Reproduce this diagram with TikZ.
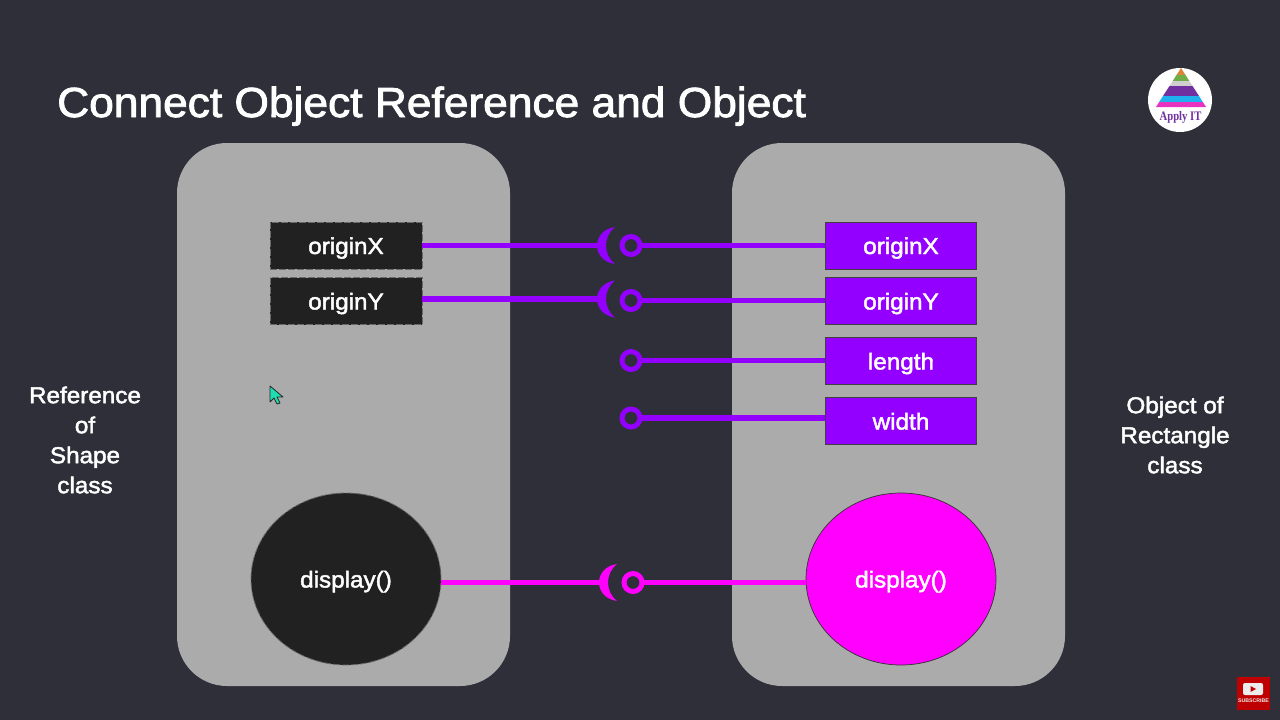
\documentclass[tikz,border=0pt]{standalone}
\usepackage{fontspec}
\setmainfont{Liberation Sans}[FakeBold=2,FakeStretch=1.055]
\newfontfamily\logofont{Liberation Serif}[FakeStretch=0.82]
\newfontfamily\tinyfont{Liberation Sans}
\usetikzlibrary{shapes.geometric}
\definecolor{bgc}{HTML}{2E2F39}
\definecolor{panelc}{HTML}{ABABAB}
\definecolor{darkc}{HTML}{212121}
\definecolor{purp}{HTML}{9400FF}
\definecolor{magc}{HTML}{FF00FF}
\definecolor{edgec}{HTML}{6A6A6A}
\definecolor{cursorc}{HTML}{1FDDB0}
\tikzset{
  x=1pt,y=-1pt,
  panel/.style={fill=panelc,rounded corners=50pt},
  label/.style={text=white,font=\fontsize{23}{30}\selectfont,align=center,inner sep=0pt},
  boxtext/.style={label,text height=17pt,text depth=0pt},
  refbox/.style={boxtext,minimum width=152pt,minimum height=47pt,fill=darkc,draw=edgec,dash pattern=on 7pt off 2pt,line width=.8pt},
  objbox/.style={boxtext,minimum width=151pt,minimum height=47pt,fill=purp,draw=black!75,line width=.7pt},
  refoval/.style={boxtext,ellipse,minimum width=190pt,minimum height=172pt,fill=darkc,draw=edgec,dash pattern=on 7pt off 2pt,line width=.8pt},
  objoval/.style={boxtext,ellipse,minimum width=190pt,minimum height=172pt,fill=magc,draw=black!80,line width=.7pt},
  sock/.style={circle,draw=#1,line width=5pt,minimum size=18pt,inner sep=0pt},
  wire/.style={draw=#1,line width=5.5pt},
  moon/.pic={\fill[pic actions] (13,-18.5) .. controls (-11,-15) and (-11,15) .. (13,18.5) .. controls (1,9) and (1,-9) .. (13,-18.5) -- cycle;}
}
\begin{document}
\begin{tikzpicture}
\useasboundingbox (0,0) rectangle (1280,720);
\fill[bgc] (0,0) rectangle (1280,720);
\node[anchor=base west,text=white,inner sep=0pt,font=\fontsize{42}{48}\selectfont] (title) at (57,117) {Connect Object Reference and Object};
\path[panel] (177,143) rectangle (510,686);
\path[panel] (732,143) rectangle (1065,686);
\node[label] (lref) at (85,440) {Reference\\of\\Shape\\class};
\node[label] (lobj) at (1175,435) {Object of\\Rectangle\\class};
\node[refbox] (rx) at (346,245.5) {originX};
\node[refbox] (ry) at (346,301) {originY};
\node[refoval] (rd) at (346,579) {display()};
\node[objbox] (ox) at (901,245.5) {originX};
\node[objbox] (oy) at (901,301) {originY};
\node[objbox] (ol) at (901,361) {length};
\node[objbox] (ow) at (901,421) {width};
\node[objoval] (od) at (901,579) {display()};
\coordinate (s1) at (631,245.5);
\coordinate (s2) at (631,300.5);
\coordinate (s3) at (631,360.5);
\coordinate (s4) at (631,418);
\coordinate (s5) at (633,582.5);
\coordinate (m1) at (602,245.5);
\coordinate (m2) at (602,299);
\coordinate (m5) at (604,582.5);
\pic[fill=purp] at (m1) {moon};
\pic[fill=purp] at (m2) {moon};
\pic[fill=magc] at (m5) {moon};
\draw[wire=purp] (rx.east) -- (m1);
\draw[wire=purp] (ry.east |- m2) -- (m2);
\draw[wire=magc] (rd.east |- m5) -- (m5);
\draw[wire=purp] (s1) -- (ox.west |- s1);
\draw[wire=purp] (s2) -- (oy.west |- s2);
\draw[wire=purp] (s3) -- (ol.west |- s3);
\draw[wire=purp] (s4) -- (ow.west |- s4);
\draw[wire=magc] (s5) -- (od.west |- s5);
\node[sock=purp,fill=bgc] (c1) at (s1) {};
\node[sock=purp,fill=bgc] (c2) at (s2) {};
\node[sock=purp,fill=bgc] (c3) at (s3) {};
\node[sock=purp,fill=bgc] (c4) at (s4) {};
\node[sock=magc,fill=bgc] (c5) at (s5) {};
% cursor
\draw[fill=cursorc,draw=black!85,line width=.8pt,line join=round]
 (270,386) -- (270,402) -- (274,398) -- (277,404) -- (280,403) -- (277,397) -- (283,397) -- cycle;
% logo
\definecolor{lorange}{HTML}{D9843B}
\definecolor{lgreen}{HTML}{70AD47}
\definecolor{lgrey}{HTML}{D0CECE}
\definecolor{lpurple}{HTML}{7030A0}
\definecolor{lcyan}{HTML}{1FB0F0}
\definecolor{lmag}{HTML}{E832C0}
\fill[white] (1180,100) circle (32);
\fill[lorange] (1181,68) -- (1176.5,75) -- (1185.5,75) -- cycle;
\fill[lgreen] (1176.5,75) -- (1185.5,75) -- (1189.3,81) -- (1172.7,81) -- cycle;
\fill[lgrey] (1172.7,81) -- (1189.3,81) -- (1192.5,86) -- (1169.5,86) -- cycle;
\fill[lpurple] (1169.5,86) -- (1192.5,86) -- (1199,96) -- (1163,96) -- cycle;
\fill[lcyan] (1163,96) -- (1199,96) -- (1202.8,102) -- (1159.2,102) -- cycle;
\fill[lmag] (1159.2,102) -- (1202.8,102) -- (1206,107) -- (1156,107) -- cycle;
\node[text=lpurple,inner sep=0pt,font=\logofont\bfseries\fontsize{13}{14}\selectfont] (logo) at (1180.5,117) {Apply IT};
% subscribe
\fill[red!75!black] (1237,677) rectangle (1270,710);
\fill[white!85!gray,rounded corners=2pt] (1243,683) rectangle (1263,695);
\fill[red!75!black] (1250.5,686) -- (1250.5,692) -- (1256,689) -- cycle;
\node[text=white!85!gray,inner sep=0pt,font=\tinyfont\bfseries\fontsize{5.2}{6}\selectfont] (sub) at (1253.5,700.5) {SUBSCRIBE};
\end{tikzpicture}
\end{document}
